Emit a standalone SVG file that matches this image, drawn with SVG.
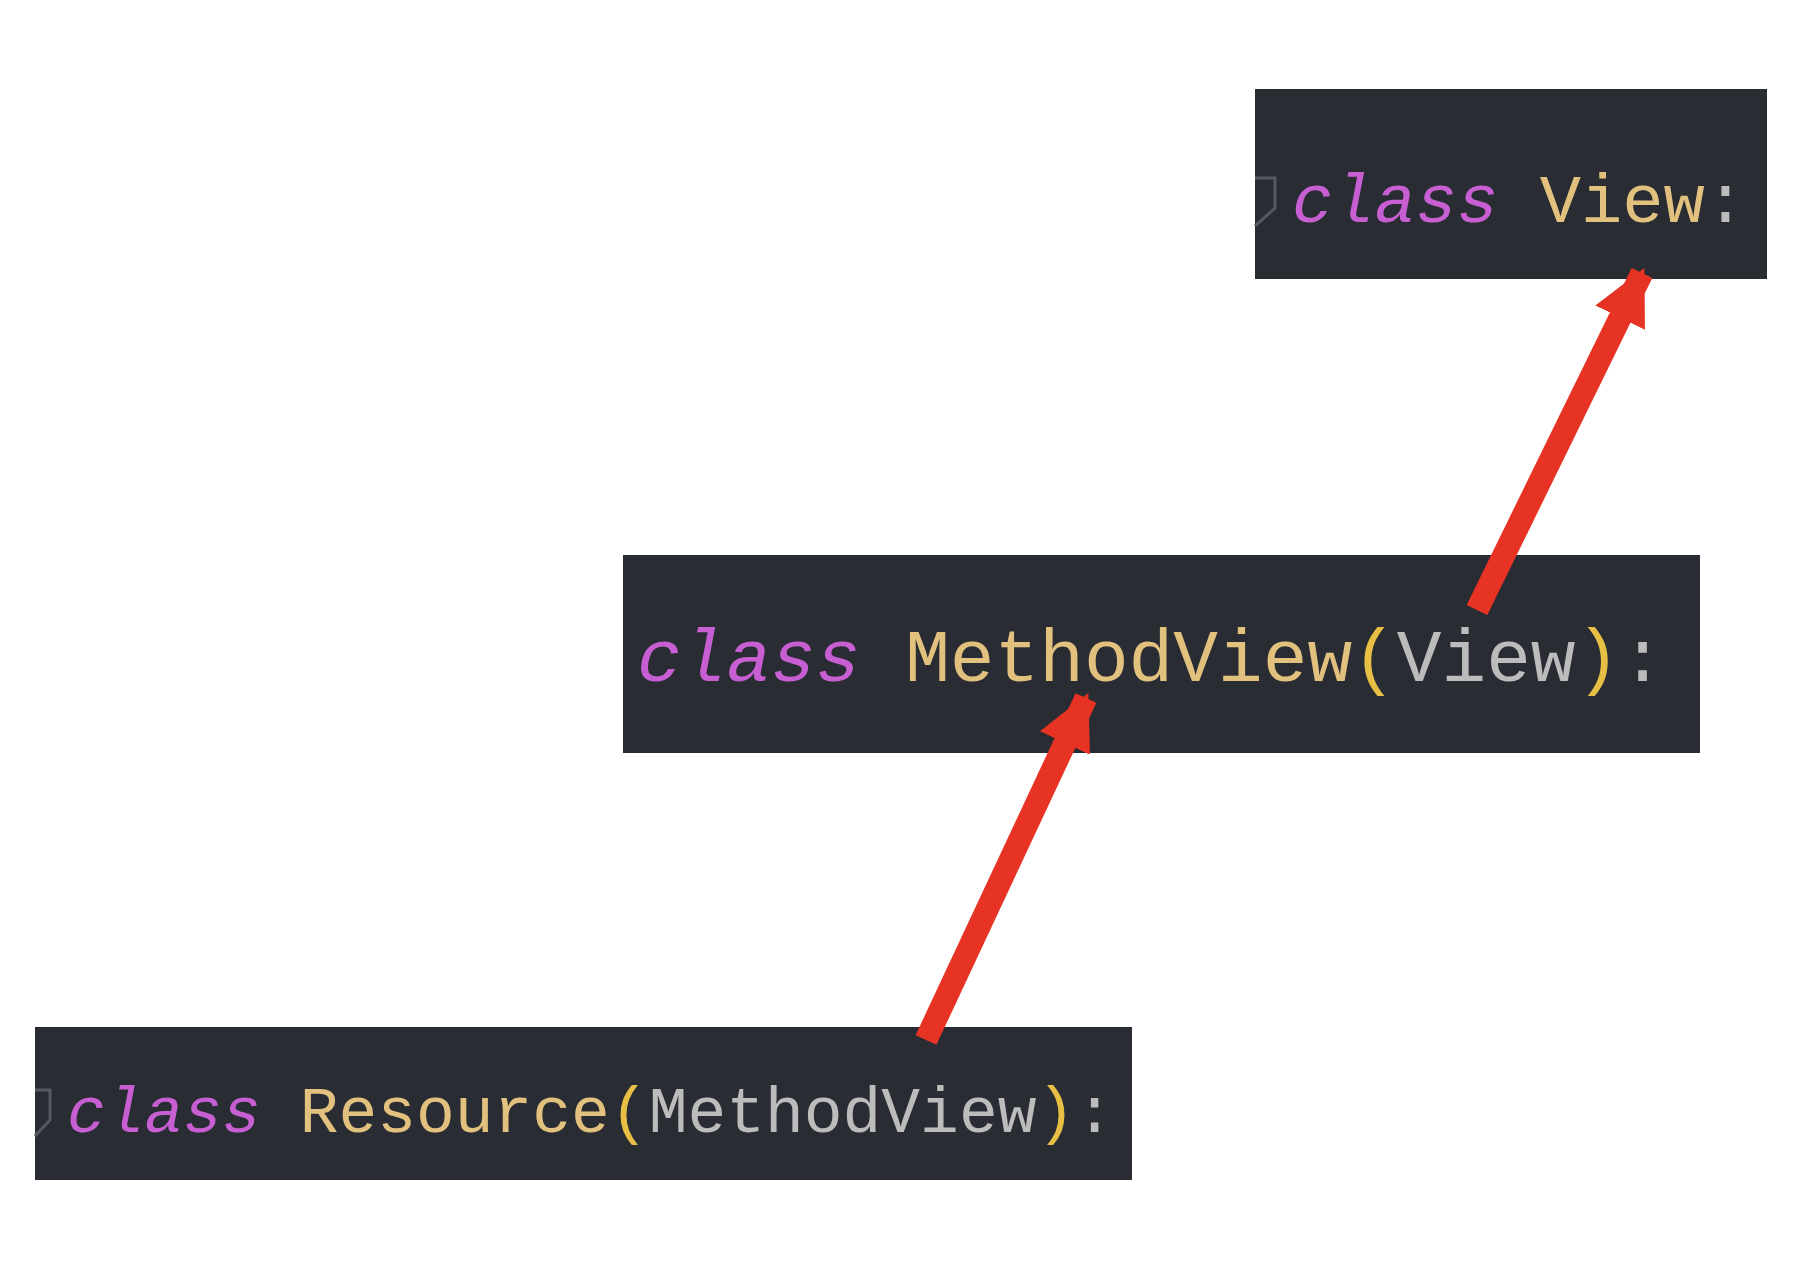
<svg xmlns="http://www.w3.org/2000/svg" width="1806" height="1262" viewBox="0 0 1806 1262">
<style>
.bg{fill:#292c33}
text{font-family:"Liberation Mono","DejaVu Sans Mono",monospace}
.k{fill:#c75fd2;font-style:italic}
.n{fill:#e2c17e}
.p{fill:#e8bf45}
.g{fill:#bcbcbc}
.fold{fill:none;stroke:#555a62;stroke-width:3}
</style>
<defs>
<marker id="ah" viewBox="0 0 10 10" refX="9" refY="5" markerWidth="2.4" markerHeight="2.6" orient="auto" markerUnits="strokeWidth">
<path d="M0,0 L10,5 L0,10 z" fill="#e63323"/>
</marker>
</defs>
<g id="view">
<rect class="bg" x="1255" y="89" width="512" height="190"/>
<path class="fold" d="M1255,178 h20 v30 l-20,18"/>
<text x="1292" y="222" font-size="68" textLength="454" lengthAdjust="spacingAndGlyphs"><tspan class="k">class</tspan><tspan class="n"> View</tspan><tspan class="g">:</tspan></text>
</g>
<g id="methodview">
<rect class="bg" x="623" y="555" width="1077" height="198"/>
<text x="637" y="681" font-size="74" textLength="1028" lengthAdjust="spacingAndGlyphs"><tspan class="k">class</tspan><tspan class="n"> MethodView</tspan><tspan class="p">(</tspan><tspan class="g">View</tspan><tspan class="p">)</tspan><tspan class="g">:</tspan></text>
</g>
<g id="resource">
<rect class="bg" x="35" y="1027" width="1097" height="153"/>
<path class="fold" d="M35,1090 h15 v30 l-15,16"/>
<text x="67" y="1132" font-size="64" textLength="1047" lengthAdjust="spacingAndGlyphs"><tspan class="k">class</tspan><tspan class="n"> Resource</tspan><tspan class="p">(</tspan><tspan class="g">MethodView</tspan><tspan class="p">)</tspan><tspan class="g">:</tspan></text>
</g>
<g id="connectors" stroke="#e63323" stroke-width="23" fill="none">
<line x1="926" y1="1040" x2="1086" y2="698" marker-end="url(#ah)"/>
<line x1="1477" y1="610" x2="1642" y2="273" marker-end="url(#ah)"/>
</g>
</svg>
